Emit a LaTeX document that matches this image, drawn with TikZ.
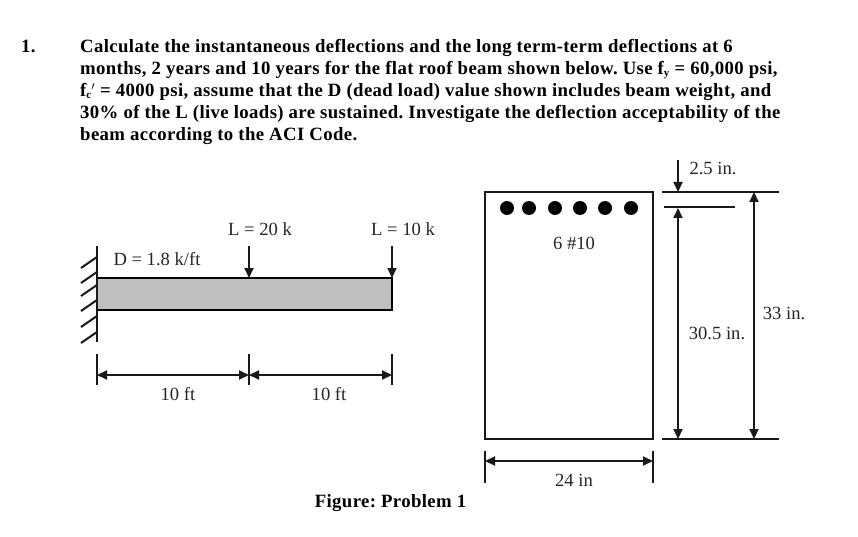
\documentclass[tikz,border=0pt]{standalone}
\usepackage{fontspec}
\setmainfont{Liberation Serif}
\newfontfamily\spacedbold[LetterSpace=2.0]{Liberation Serif Bold}
\usetikzlibrary{arrows.meta}
\tikzset{
  para/.style={anchor=base west,inner sep=0pt,font=\frenchspacing\fontsize{18.75}{22}\selectfont\spacedbold},
  lab/.style={inner sep=0pt,anchor=base,font=\fontsize{18.6}{22}\selectfont,text=black!85},
  ln/.style={line width=2pt,black!90},
  heavy/.style={line width=2.4pt,black!90},
  arr/.style={line width=2pt,black!90,-{Triangle[length=10pt,width=9pt]}},
  dbl/.style={line width=2pt,black!90,{Triangle[length=10pt,width=9pt]}-{Triangle[length=10pt,width=9pt]}},
  bar/.style={circle,fill=black,minimum size=14pt,inner sep=0pt}
}
\begin{document}
\begin{tikzpicture}[x=1pt,y=-1pt]
\useasboundingbox (0,0) rectangle (858,537);
\fill[white] (0,0) rectangle (858,537);
% text
\node[para] (num) at (21,52.5) {1.};
\node[para] (t1) at (80,52.5) {Calculate the instantaneous deflections and the long term-term deflections at 6};
\node[para] (t2) at (80,74.5) {months, 2 years and 10 years for the flat roof beam shown below. Use f\raisebox{-2pt}{\fontsize{11}{11}\selectfont y} = 60,000 psi,};
\node[para] (t3) at (80,96.5) {f\raisebox{-2pt}{\fontsize{11}{11}\selectfont c}$'$ = 4000 psi, assume that the D (dead load) value shown includes beam weight, and};
\node[para] (t4) at (80,118.5) {30\% of the L (live loads) are sustained. Investigate the deflection acceptability of the};
\node[para] (t5) at (80,140.5) {beam according to the ACI Code.};
% beam
\coordinate (wt) at (97,246); \coordinate (wb) at (97,342);
\node[draw=black,line width=2.4pt,fill=black!25,outer sep=0pt,minimum width=295pt,minimum height=32pt,inner sep=0pt,anchor=north west] (beam) at (97,278) {};
\draw[heavy] (wt) -- (wb);
\foreach \i/\y in {1/257,2/272,3/285,4/300,5/316,6/332}{
  \coordinate (ha\i) at (97,\y); \coordinate (hb\i) at (81,\y+11);
  \draw[ln] (ha\i) -- (hb\i);
}
\node[lab] (d) at (157,265) {D = 1.8 k/ft};
\node[lab] (l20) at (260,235) {L = 20 k};
\node[lab] (l10) at (403,235) {L = 10 k};
\coordinate (a1) at (249,246); \coordinate (a1e) at (249,278);
\coordinate (a2) at (392,246); \coordinate (a2e) at (392,278);
\draw[arr] (a1) -- (a1e);
\draw[arr] (a2) -- (a2e);
% beam dims
\foreach \n/\x in {p/97,q/249,r/392}{
  \coordinate (\n t) at (\x,354); \coordinate (\n b) at (\x,385); \coordinate (\n m) at (\x,375);
  \draw[ln] (\n t) -- (\n b);
}
\draw[dbl] (pm) -- (qm);
\draw[dbl] (qm) -- (rm);
\node[lab] (f1) at (178,400) {10 ft};
\node[lab] (f2) at (329,400) {10 ft};
% section
\node[draw=black!90,line width=2.4pt,outer sep=0pt,minimum width=168pt,minimum height=247pt,inner sep=0pt,anchor=north west] (sec) at (485,192) {};
\foreach \i/\x in {1/507,2/529,3/555,4/580,5/605,6/631}{ \node[bar] (b\i) at (\x,208) {}; }
\node[lab] (bars) at (574,249) {6 \#10};
% section dims
\coordinate (tl) at (662,192); \coordinate (tr) at (779,192);
\coordinate (ml) at (664,207.5); \coordinate (mr) at (735,207.5);
\coordinate (bl) at (662,439); \coordinate (br) at (779,439);
\draw[ln] (tl) -- (tr);
\draw[ln] (ml) -- (mr);
\draw[ln] (bl) -- (br);
\coordinate (c1) at (678,160); \coordinate (c1e) at (678,192);
\draw[arr] (c1) -- (c1e);
\coordinate (c2) at (678,208); \coordinate (c2e) at (678,439);
\draw[dbl] (c2) -- (c2e);
\coordinate (c3) at (754,192); \coordinate (c3e) at (754,439);
\draw[dbl] (c3) -- (c3e);
\node[lab] (d25) at (713,175) {2.5 in.};
\node[lab] (d305) at (717,339) {30.5 in.};
\node[lab] (d33) at (784,319) {33 in.};
\coordinate (wl) at (485,451); \coordinate (wlb) at (485,483); \coordinate (wlm) at (485,461);
\coordinate (wr) at (653,451); \coordinate (wrb) at (653,483); \coordinate (wrm) at (653,461);
\draw[ln] (wl) -- (wlb);
\draw[ln] (wr) -- (wrb);
\draw[dbl] (wlm) -- (wrm);
\node[lab] (d24) at (574,486) {24 in};
\node[para,anchor=base] (cap) at (390.5,507) {Figure: Problem 1};
\end{tikzpicture}
\end{document}
